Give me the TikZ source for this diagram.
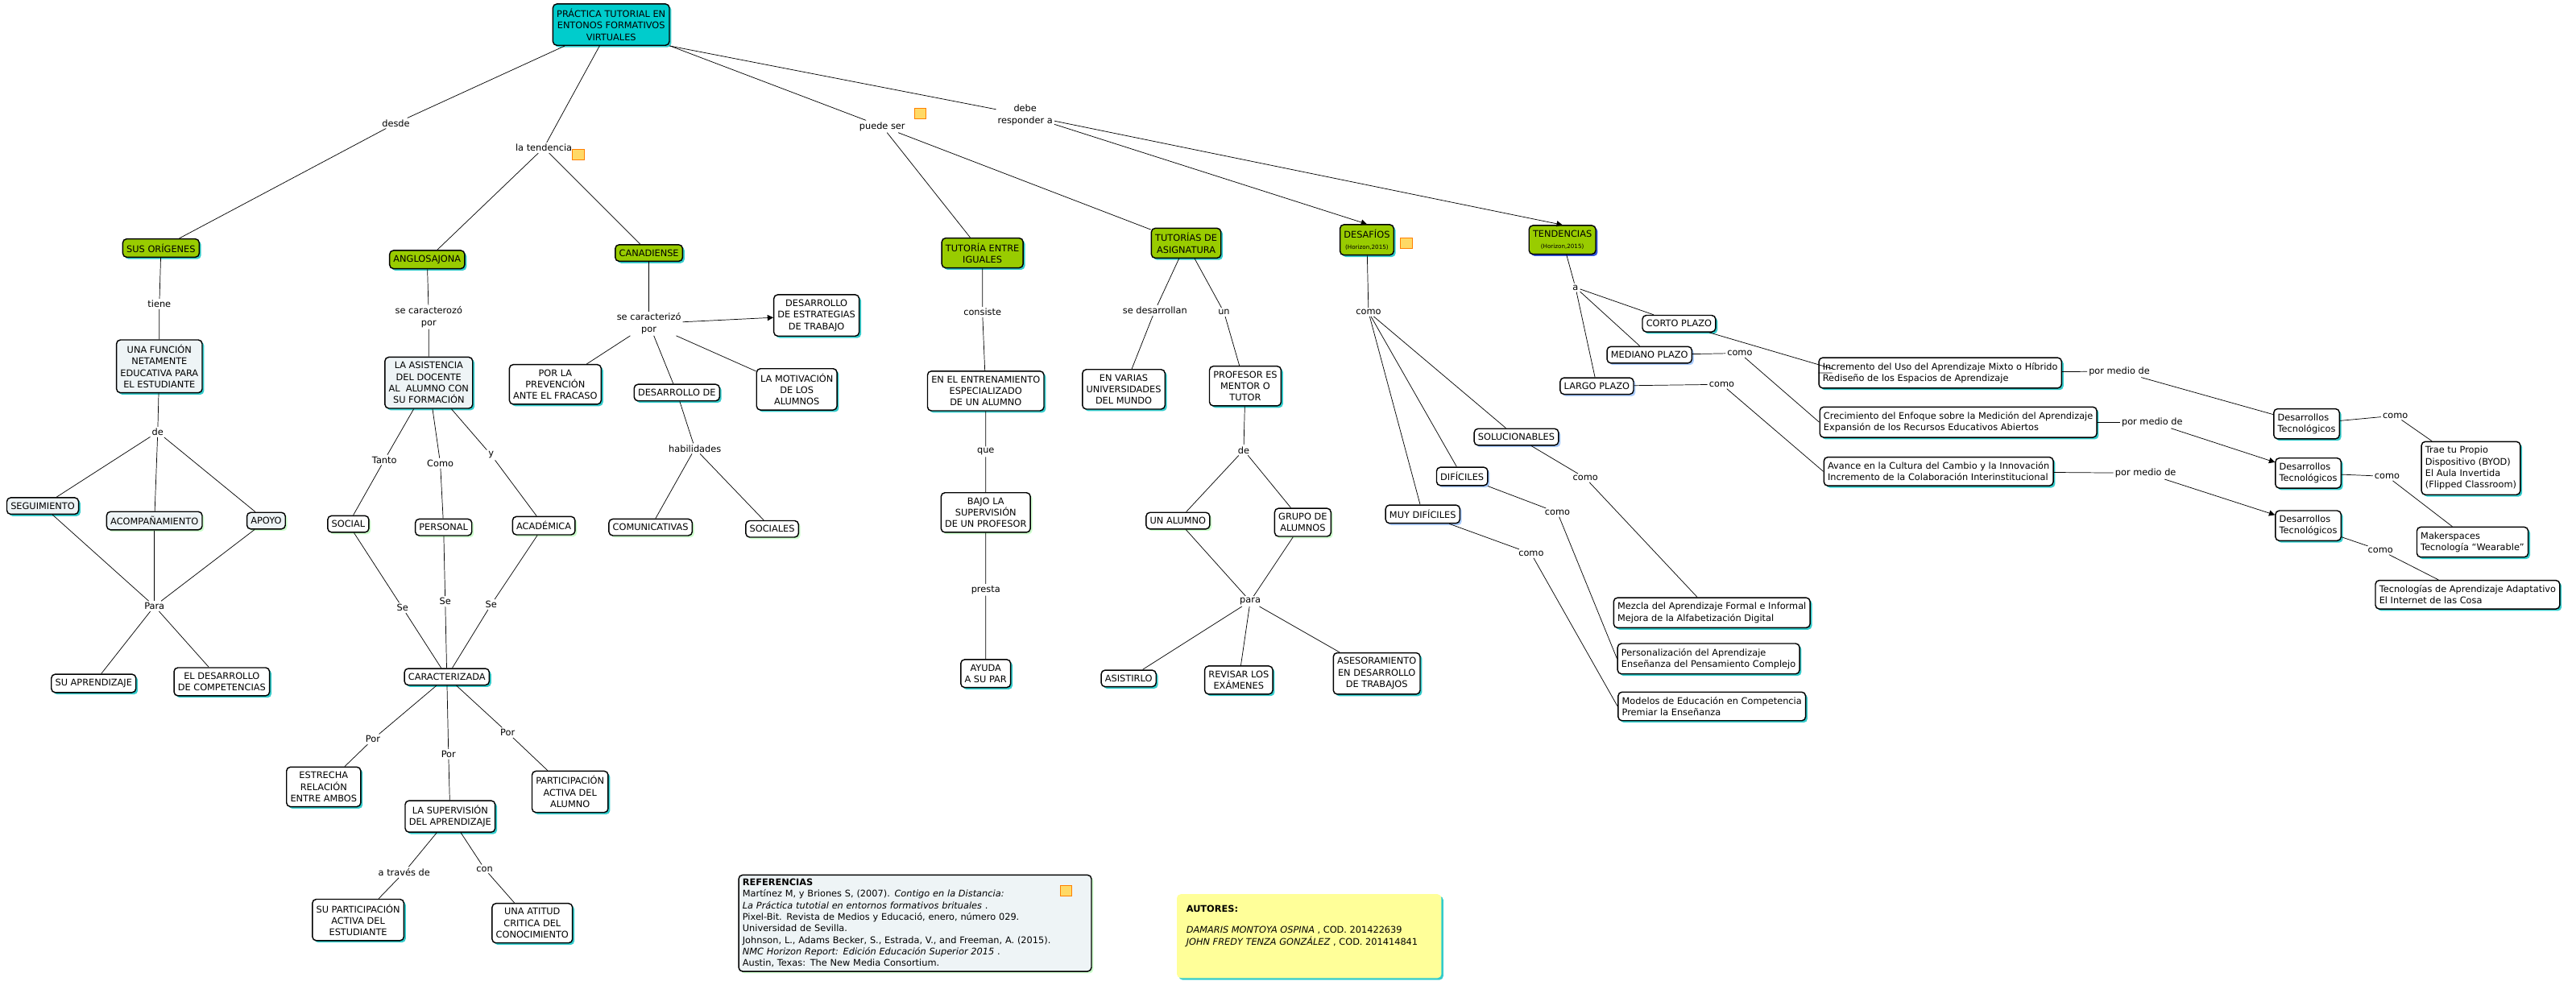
\documentclass[tikz,border=0pt]{standalone}
\usepackage{fontspec}
\setmainfont{DejaVu Sans}
\usetikzlibrary{arrows.meta,shadows}
\definecolor{rootc}{HTML}{00CCCC}
\definecolor{greenc}{HTML}{99CC00}
\definecolor{lightc}{HTML}{EEF4F6}
\definecolor{shc}{HTML}{33CCCC}
\definecolor{shg}{HTML}{CCFFCC}
\definecolor{shb}{HTML}{AACCFF}
\definecolor{shd}{HTML}{3355DD}
\definecolor{notec}{HTML}{FFD966}
\definecolor{autc}{HTML}{FFFF99}
\tikzset{
  c/.style={draw, line width=1.2pt, rounded corners=4pt, fill=white, align=center,
    inner xsep=4pt, inner ysep=5pt,
    drop shadow={shadow xshift=2pt, shadow yshift=-2pt, fill=#1, opacity=1}},
  c/.default=shc,
  lab/.style={inner sep=1.5pt, align=center},
  note/.style={draw=orange, fill=notec, minimum width=12pt, minimum height=11pt, inner sep=0pt},
  tip/.style={-{Triangle[length=6pt,width=6pt]}}
}
\begin{document}
\begin{tikzpicture}[x=0.06cm, y=-0.06cm, font=\fontsize{9.5}{12}\selectfont, line width=0.6pt]
  \useasboundingbox (0,0) rectangle (1568,597);
  % root and first level
  \node[c, fill=rootc] (root) at (372,15) {PRÁCTICA TUTORIAL EN\\ENTONOS FORMATIVOS\\VIRTUALES};
  \node[lab] (desde) at (241,75) {desde};
  \node[lab] (tendl) at (331,90) {la tendencia};
  \node[lab] (puede) at (537,77) {puede ser};
  \node[lab] (debe) at (624,70) {debe\\responder a};
  \node[note] (n1) at (352,94) {};
  \node[note] (n2) at (560,69) {};
  \node[c, fill=greenc] (orig) at (98,151) {SUS ORÍGENES};
  \node[c, fill=greenc] (anglo) at (260,158) {ANGLOSAJONA};
  \node[c, fill=greenc] (canad) at (395,154) {CANADIENSE};
  \node[c, fill=greenc] (iguales) at (598,154) {TUTORÍA ENTRE\\IGUALES};
  \node[c, fill=greenc] (asign) at (722,148) {TUTORÍAS DE\\ASIGNATURA};
  \node[c, fill=greenc] (desaf) at (832,146) {DESAFÍOS\\{\fontsize{6}{8}\selectfont(Horizon,2015)}};
  \node[c=shd, fill=greenc] (tend) at (951,146) {TENDENCIAS\\{\fontsize{6}{8}\selectfont(Horizon,2015)}};
  \node[note] (n3) at (856,148) {};
  \draw (root) -- (desde) -- (orig);
  \draw (root) -- (tendl) -- (anglo);
  \draw (tendl) -- (canad);
  \draw (root.south east) -- (puede) -- (iguales);
  \draw (puede) -- (asign);
  \draw (root.-20) -- (debe);
  \draw[tip] (debe) -- (desaf.north);
  \draw[tip] (debe) -- (tend.north);
  % sus origenes
  \node[lab] (tiene) at (97,185) {tiene};
  \node[c, fill=lightc] (func) at (97,223) {UNA FUNCIÓN\\NETAMENTE\\EDUCATIVA PARA\\EL ESTUDIANTE};
  \node[lab] (de1) at (96,263) {de};
  \node[c, fill=lightc] (seg) at (26,308) {SEGUIMIENTO};
  \node[c=shg, fill=lightc] (acomp) at (94,317) {ACOMPAÑAMIENTO};
  \node[c=shg, fill=lightc] (apoyo) at (162,317) {APOYO};
  \node[lab] (para1) at (94,369) {Para};
  \node[c] (suapr) at (57,416) {SU APRENDIZAJE};
  \node[c] (desco) at (135,415) {EL DESARROLLO\\DE COMPETENCIAS};
  \draw (orig) -- (tiene) -- (func) -- (de1);
  \draw (de1) -- (seg); \draw (de1) -- (acomp); \draw (de1) -- (apoyo);
  \draw (seg) -- (para1); \draw (acomp) -- (para1); \draw (apoyo) -- (para1);
  \draw (para1) -- (suapr); \draw (para1) -- (desco);
  % anglosajona
  \node[lab] (sc1) at (261,193) {se caracterozó\\por};
  \node[c, fill=lightc] (asist) at (261,233) {LA ASISTENCIA\\DEL DOCENTE\\AL~ ALUMNO CON\\SU FORMACIÓN};
  \node[lab] (tanto) at (234,280) {Tanto};
  \node[lab] (como1) at (268,282) {Como};
  \node[lab] (y1) at (299,277) {y};
  \node[c=shg] (social) at (212,319) {SOCIAL};
  \node[c=shg] (personal) at (270,321) {PERSONAL};
  \node[c=shg] (acad) at (331,320) {ACADÉMICA};
  \node[lab] (se1) at (245,370) {Se};
  \node[lab] (se2) at (271,366) {Se};
  \node[lab] (se3) at (299,368) {Se};
  \node[c] (caract) at (272,412) {CARACTERIZADA};
  \node[lab] (por1) at (227,450) {Por};
  \node[lab] (por2) at (273,459) {Por};
  \node[lab] (por3) at (309,446) {Por};
  \node[c] (estrecha) at (197,479) {ESTRECHA\\RELACIÓN\\ENTRE AMBOS};
  \node[c] (superv) at (274,497) {LA SUPERVISIÓN\\DEL APRENDIZAJE};
  \node[c] (partic) at (347,482) {PARTICIPACIÓN\\ACTIVA DEL\\ALUMNO};
  \node[lab] (atraves) at (246,531) {a través de};
  \node[lab] (con) at (295,529) {con};
  \node[c] (supart) at (218,560) {SU PARTICIPACIÓN\\ACTIVA DEL\\ESTUDIANTE};
  \node[c] (atitud) at (324,562) {UNA ATITUD\\CRITICA DEL\\CONOCIMIENTO};
  \draw (anglo) -- (sc1) -- (asist);
  \draw (asist) -- (tanto) -- (social);
  \draw (asist) -- (como1) -- (personal);
  \draw (asist) -- (y1) -- (acad);
  \draw (social) -- (se1) -- (caract);
  \draw (personal) -- (se2) -- (caract);
  \draw (acad) -- (se3) -- (caract);
  \draw (caract) -- (por1) -- (estrecha);
  \draw (caract) -- (por2) -- (superv);
  \draw (caract) -- (por3) -- (partic);
  \draw (superv) -- (atraves) -- (supart);
  \draw (superv) -- (con) -- (atitud);
  % canadiense
  \node[lab] (sc2) at (395,197) {se caracterizó\\por};
  \node[c] (estrat) at (497,192) {DESARROLLO\\DE ESTRATEGIAS\\DE TRABAJO};
  \node[c] (prev) at (338,234) {POR LA\\PREVENCIÓN\\ANTE EL FRACASO};
  \node[c] (desde2) at (412,239) {DESARROLLO DE};
  \node[c] (motiv) at (485,237) {LA MOTIVACIÓN\\DE LOS\\ALUMNOS};
  \node[lab] (hab) at (423,273) {habilidades};
  \node[c=shg] (comun) at (396,321) {COMUNICATIVAS};
  \node[c=shg] (sociales) at (470,322) {SOCIALES};
  \draw (canad) -- (sc2);
  \draw[tip] (sc2) -- (estrat);
  \draw (sc2) -- (prev); \draw (sc2) -- (desde2); \draw (sc2) -- (motiv);
  \draw (desde2) -- (hab) -- (comun);
  \draw (hab) -- (sociales);
  % tutoria entre iguales
  \node[lab] (consiste) at (598,190) {consiste};
  \node[c] (entren) at (600,238) {EN EL ENTRENAMIENTO\\ESPECIALIZADO\\DE UN ALUMNO};
  \node[lab] (que) at (600,275) {que};
  \node[c=shg] (bajo) at (600,312) {BAJO LA\\SUPERVISIÓN\\DE UN PROFESOR};
  \node[lab] (presta) at (600,359) {presta};
  \node[c] (ayuda) at (600,410) {AYUDA\\A SU PAR};
  \draw (iguales) -- (consiste) -- (entren) -- (que) -- (bajo) -- (presta) -- (ayuda);
  % tutorias de asignatura
  \node[lab] (desarr) at (703,189) {se desarrollan};
  \node[lab] (un) at (745,190) {un};
  \node[c] (varias) at (684,237) {EN VARIAS\\UNIVERSIDADES\\DEL MUNDO};
  \node[c] (profesor) at (758,235) {PROFESOR ES\\MENTOR O\\TUTOR};
  \node[lab] (de2) at (757,274) {de};
  \node[c=shg] (unalumno) at (717,317) {UN ALUMNO};
  \node[c=shg] (grupo) at (793,318) {GRUPO DE\\ALUMNOS};
  \node[lab] (para2) at (761,366) {para};
  \node[c] (asistirlo) at (687,413) {ASISTIRLO};
  \node[c] (revisar) at (754,414) {REVISAR LOS\\EXÁMENES};
  \node[c] (asesor) at (838,410) {ASESORAMIENTO\\EN DESARROLLO\\DE TRABAJOS};
  \draw (asign) -- (desarr) -- (varias);
  \draw (asign) -- (un) -- (profesor) -- (de2);
  \draw (de2) -- (unalumno); \draw (de2) -- (grupo);
  \draw (unalumno) -- (para2); \draw (grupo) -- (para2);
  \draw (para2) -- (asistirlo); \draw (para2) -- (revisar); \draw (para2) -- (asesor);
  % desafios
  \node[lab] (como0) at (833,190) {como};
  \node[c=shb] (soluc) at (923,266) {SOLUCIONABLES};
  \node[c=shb] (dific) at (890,290) {DIFÍCILES};
  \node[c=shb] (muy) at (866,313) {MUY DIFÍCILES};
  \node[lab] (comoS) at (965,291) {como};
  \node[lab] (comoD) at (948,312) {como};
  \node[lab] (comoM) at (932,337) {como};
  \node[c, align=left] (mezcla) at (1042,373) {Mezcla del Aprendizaje Formal e Informal\\Mejora de la Alfabetización Digital};
  \node[c, align=left] (person) at (1040,401) {Personalización del Aprendizaje\\Enseñanza del Pensamiento Complejo};
  \node[c, align=left] (modelos) at (1042,430) {Modelos de Educación en Competencia\\Premiar la Enseñanza};
  \draw (desaf) -- (como0);
  \draw (como0) -- (soluc); \draw (como0) -- (dific); \draw (como0) -- (muy);
  \draw (soluc) -- (comoS) -- (mezcla);
  \draw (dific) -- (comoD) -- (person.west);
  \draw (muy) -- (comoM) -- (modelos.west);
  % tendencias
  \node[lab] (a1) at (959,175) {a};
  \node[c] (corto) at (1022,197) {CORTO PLAZO};
  \node[c=shb] (mediano) at (1004,216) {MEDIANO PLAZO};
  \node[c=shb] (largo) at (972,235) {LARGO PLAZO};
  \node[lab] (comoC) at (1124,227) {como};
  \node[lab] (comoMd) at (1059,215) {como};
  \node[lab] (comoL) at (1048,234) {como};
  \node[c, align=left] (increm) at (1181,227) {Incremento del Uso del Aprendizaje Mixto o Híbrido\\Rediseño de los Espacios de Aprendizaje};
  \node[c, align=left] (crec) at (1192,257) {Crecimiento del Enfoque sobre la Medición del Aprendizaje\\Expansión de los Recursos Educativos Abiertos};
  \node[c, align=left] (avance) at (1180,287) {Avance en la Cultura del Cambio y la Innovación\\Incremento de la Colaboración Interinstitucional};
  \node[lab] (pm1) at (1290,226) {por medio de};
  \node[lab] (pm2) at (1310,257) {por medio de};
  \node[lab] (pm3) at (1306,288) {por medio de};
  \node[c, align=left] (des1) at (1404,258) {Desarrollos\\Tecnológicos};
  \node[c, align=left] (des2) at (1405,288) {Desarrollos\\Tecnológicos};
  \node[c, align=left] (des3) at (1405,320) {Desarrollos\\Tecnológicos};
  \node[lab] (comoT1) at (1458,253) {como};
  \node[lab] (comoT2) at (1453,290) {como};
  \node[lab] (comoT3) at (1449,335) {como};
  \node[c, align=left] (trae) at (1504,285) {Trae tu Propio\\Dispositivo (BYOD)\\El Aula Invertida\\(Flipped Classroom)};
  \node[c, align=left] (maker) at (1505,330) {Makerspaces\\Tecnología “Wearable”};
  \node[c, align=left] (tecno) at (1502,362) {Tecnologías de Aprendizaje Adaptativo\\El Internet de las Cosa};
  \draw (tend) -- (a1);
  \draw (a1) -- (corto); \draw (a1) -- (mediano); \draw (a1) -- (largo);
  \draw (corto) -- (comoC) -- (increm);
  \draw (mediano) -- (comoMd) -- (crec.west);
  \draw (largo) -- (comoL) -- (avance.west);
  \draw (increm) -- (pm1) -- (des1);
  \draw (crec) -- (pm2); \draw[tip] (pm2) -- (des2);
  \draw (avance) -- (pm3); \draw[tip] (pm3) -- (des3);
  \draw (des1) -- (comoT1) -- (trae);
  \draw (des2) -- (comoT2) -- (maker);
  \draw (des3) -- (comoT3) -- (tecno);
  % referencias y autores
  \node[c=shg, fill=lightc, align=left, text width=12.6cm, inner ysep=4pt] (refs) at (557,562)
    {\textbf{REFERENCIAS}\\
     Martínez M, y Briones S, (2007). \textit{Contigo en la Distancia:}\\
     \textit{La Práctica tutotial en entornos formativos brituales} .\\
     Pixel-Bit. Revista de Medios y Educació, enero, número 029.\\
     Universidad de Sevilla.\\
     Johnson, L., Adams Becker, S., Estrada, V., and Freeman, A. (2015).\\
     \textit{NMC Horizon Report: Edición Educación Superior 2015} .\\
     Austin, Texas: The New Media Consortium.};
  \node[note] (n4) at (649,542) {};
  \node[c, draw=none, fill=autc, minimum width=9.66cm, minimum height=3.06cm, anchor=north west] (autbox) at (716,544) {};
  \node[anchor=north west, align=left] (autores) at (720,549)
    {\textbf{AUTORES:}\\[10pt]
     \textit{DAMARIS MONTOYA OSPINA} , COD. 201422639\\
     \textit{JOHN FREDY TENZA GONZÁLEZ} , COD. 201414841};
\end{tikzpicture}
\end{document}
